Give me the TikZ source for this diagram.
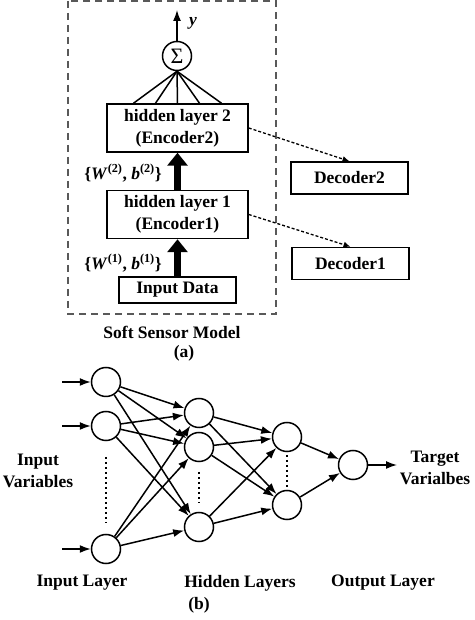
\documentclass[tikz,border=0pt]{standalone}
\usepackage{fontspec}
\setmainfont{Liberation Serif}
\usetikzlibrary{arrows.meta}
\newcommand{\labfont}{\bfseries\fontsize{17.5}{22}\selectfont}
\newcommand{\wlabel}[1]{\{\textit{W}\textsuperscript{(#1)}, \textit{b}\textsuperscript{(#1)}\}} % {layer}
\tikzset{
	layerbox/.style={draw, line width=1.5pt, minimum width=141pt, minimum height=48pt, inner sep=0pt, align=center, font=\labfont},
	databox/.style={draw, line width=1.5pt, minimum width=117pt, minimum height=26pt, inner sep=0pt, font=\labfont},
	decbox/.style={draw, line width=1.5pt, minimum width=117pt, minimum height=32pt, inner sep=0pt, font=\labfont},
	sumnode/.style={draw, circle, line width=1.5pt, minimum size=29pt, inner sep=0pt, font=\fontsize{22}{24}\selectfont},
	neuron/.style={draw, circle, line width=1.5pt, minimum size=29pt, inner sep=0pt},
	txt/.style={inner sep=0pt, align=center, font=\labfont},
	bigarrow/.style={line width=7.5pt, -{Triangle[length=13pt, width=20pt]}},
	decarrow/.style={line width=1.3pt, dash pattern=on 3pt off 2pt, -{Latex[length=7pt, width=6pt]}},
	netarrow/.style={line width=1.5pt, -{Latex[length=11pt, width=8pt]}},
	dotline/.style={line width=1.6pt, dash pattern=on 1.6pt off 3.4pt}
}
\begin{document}
\begin{tikzpicture}[x=1pt, y=1pt]
		\useasboundingbox (0,0) rectangle (474,620);
		
		% (a) soft sensor model
		\draw [line width=1.3pt, dash pattern=on 7pt off 5pt, gray!70!black] (68,619) rectangle (276,306);
		
		\node [sumnode] (sigma) at (177,564) {Σ};
		\coordinate (yout) at (177,610);
		\draw [netarrow] (sigma) -- (yout);
		\node [txt, font=\bfseries\itshape\fontsize{17.5}{21}\selectfont] (ylab) at (193,597) {y};
		
		\node [layerbox] (enc2) at (177.5,492) {hidden layer 2\\(Encoder2)};
		\node [layerbox] (enc1) at (177.5,405.5) {hidden layer 1\\(Encoder1)};
		\node [databox] (data) at (177.5,330) {Input Data};
		\node [decbox] (dec2) at (349.5,442) {Decoder2};
		\node [decbox] (dec1) at (350.5,356.5) {Decoder1};
		
		\foreach \dx in {-44,-22,0,22,44} {
			\draw [line width=1.5pt] (sigma.south) -- ([xshift=\dx pt]enc2.north);
		}
		\draw [bigarrow] (enc1) -- (enc2);
		\draw [bigarrow] (data) -- (enc1);
		\draw [decarrow] (enc2.east) -- (dec2.north);
		\draw [decarrow] (enc1.east) -- (dec1.north);
		
		\node [txt] (w2) at (123,447) {\wlabel{2}};
		\node [txt] (w1) at (123,357) {\wlabel{1}};
		\node [txt] (ssm) at (172,288) {Soft Sensor Model};
		\node [txt] (capa) at (184,267) {(a)};
		
		% (b) network
		\node [neuron] (i1) at (106,238) {};
		\node [neuron] (i2) at (106,194) {};
		\node [neuron] (i3) at (106,71) {};
		\node [neuron] (h1) at (199,207) {};
		\node [neuron] (h2) at (199,173) {};
		\node [neuron] (h3) at (199,93) {};
		\node [neuron] (k1) at (287,183) {};
		\node [neuron] (k2) at (287,115) {};
		\node [neuron] (out) at (353,155) {};
		
		\coordinate (x1) at (62,238);
		\coordinate (x2) at (62,194);
		\coordinate (x3) at (62,71);
		\coordinate (tgt) at (397,155);
		\draw [netarrow] (x1) -- (i1);
		\draw [netarrow] (x2) -- (i2);
		\draw [netarrow] (x3) -- (i3);
		\foreach \a in {i1,i2,i3} {
			\foreach \b in {h1,h2,h3} {
				\draw [netarrow] (\a) -- (\b);
			}
		}
		\foreach \a in {h1,h2,h3} {
			\foreach \b in {k1,k2} {
				\draw [netarrow] (\a) -- (\b);
			}
		}
		\draw [netarrow] (k1) -- (out);
		\draw [netarrow] (k2) -- (out);
		\draw [netarrow] (out) -- (tgt);
		
		\draw [dotline] (106,163) -- (106,97);
		\draw [dotline] (199,148) -- (199,117);
		\draw [dotline] (287,165) -- (287,133);
		
		\node [txt] (invar) at (38,149) {Input\\Variables};
		\node [txt] (tvar) at (435,152) {Target\\Varialbes};
		\node [txt] (inlay) at (82,37) {Input Layer};
		\node [txt] (hidlay) at (240,37) {Hidden Layers};
		\node [txt] (outlay) at (383,37) {Output Layer};
		\node [txt] (capb) at (199,15) {(b)};
		
\end{tikzpicture}
\end{document}
